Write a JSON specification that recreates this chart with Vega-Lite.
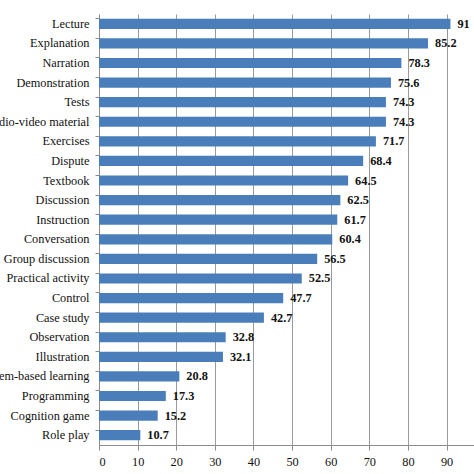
{
  "$schema": "https://vega.github.io/schema/vega-lite/v6.json",
  "width": 375,
  "height": 431,
  "autosize": "none",
  "padding": {"left": 99, "top": 14, "right": 0, "bottom": 29},
  "background": "white",
  "config": {
    "view": {"stroke": null},
    "font": "'Liberation Serif', 'Times New Roman', serif"
  },
  "data": {
    "values": [
      {"method": "Lecture", "value": 91},
      {"method": "Explanation", "value": 85.2},
      {"method": "Narration", "value": 78.3},
      {"method": "Demonstration", "value": 75.6},
      {"method": "Tests", "value": 74.3},
      {"method": "Audio-video material", "value": 74.3},
      {"method": "Exercises", "value": 71.7},
      {"method": "Dispute", "value": 68.4},
      {"method": "Textbook", "value": 64.5},
      {"method": "Discussion", "value": 62.5},
      {"method": "Instruction", "value": 61.7},
      {"method": "Conversation", "value": 60.4},
      {"method": "Group discussion", "value": 56.5},
      {"method": "Practical activity", "value": 52.5},
      {"method": "Control", "value": 47.7},
      {"method": "Case study", "value": 42.7},
      {"method": "Observation", "value": 32.8},
      {"method": "Illustration", "value": 32.1},
      {"method": "Problem-based learning", "value": 20.8},
      {"method": "Programming", "value": 17.3},
      {"method": "Cognition game", "value": 15.2},
      {"method": "Role play", "value": 10.7}
    ]
  },
  "encoding": {
    "y": {
      "field": "method",
      "type": "nominal",
      "sort": null,
      "title": null,
      "scale": {"paddingInner": 0.48, "paddingOuter": 0.24},
      "axis": {
        "bandPosition": 0,
        "domainColor": "#8c8c8c",
        "tickColor": "#8c8c8c",
        "tickSize": 4,
        "labelPadding": 6,
        "labelFont": "'Liberation Serif', 'Times New Roman', serif",
        "labelFontSize": 12.3,
        "labelColor": "#111111",
        "grid": false
      }
    },
    "x": {
      "field": "value",
      "type": "quantitative",
      "title": null,
      "scale": {"domain": [0, 97.1], "nice": false, "zero": true},
      "axis": {
        "values": [0, 10, 20, 30, 40, 50, 60, 70, 80, 90],
        "domainColor": "#8c8c8c",
        "tickColor": "#8c8c8c",
        "tickSize": 5,
        "grid": true,
        "gridColor": "#9a9a9a",
        "gridWidth": 1,
        "labelFont": "'Liberation Serif', 'Times New Roman', serif",
        "labelFontSize": 12.3,
        "labelColor": "#111111",
        "labelPadding": 5
      }
    }
  },
  "layer": [
    {
      "mark": {"type": "bar", "color": "#4a7ebb"}
    },
    {
      "mark": {
        "type": "text",
        "align": "left",
        "baseline": "middle",
        "dx": 7,
        "font": "'Liberation Serif', 'Times New Roman', serif",
        "fontSize": 12.3,
        "fontWeight": "bold",
        "color": "#111111"
      },
      "encoding": {"text": {"field": "value", "type": "quantitative"}}
    }
  ]
}
